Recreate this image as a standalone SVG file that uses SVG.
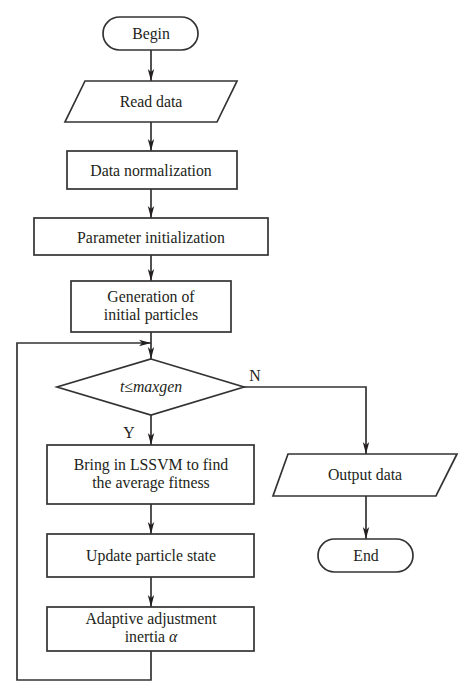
<svg xmlns="http://www.w3.org/2000/svg" width="474" height="698" viewBox="0 0 474 698">
<defs>
<marker id="arr" markerWidth="12" markerHeight="8" refX="12" refY="4" orient="auto" markerUnits="userSpaceOnUse">
<path d="M0,0.8 L12,4 L0,7.2 L3,4 z" fill="#231f20"/>
</marker>
<style>
.s{fill:#fff;stroke:#333;stroke-width:1.7}
.c{fill:none;stroke:#333;stroke-width:1.7}
text{font-family:"Liberation Serif","Times New Roman",serif;font-size:15.8px;fill:#231f20;text-anchor:middle}
.i{font-style:italic}
</style>
</defs>
<rect width="474" height="698" fill="#fff"/>
<g id="connectors">
<line class="c" x1="151" y1="50" x2="151" y2="81" marker-end="url(#arr)"/>
<line class="c" x1="151" y1="122" x2="151" y2="151" marker-end="url(#arr)"/>
<line class="c" x1="151" y1="189" x2="151" y2="218" marker-end="url(#arr)"/>
<line class="c" x1="151" y1="255" x2="151" y2="281" marker-end="url(#arr)"/>
<line class="c" x1="151" y1="332" x2="151" y2="359" marker-end="url(#arr)"/>
<line class="c" x1="151" y1="415" x2="151" y2="445" marker-end="url(#arr)"/>
<line class="c" x1="151" y1="504" x2="151" y2="534" marker-end="url(#arr)"/>
<line class="c" x1="151" y1="577" x2="151" y2="607" marker-end="url(#arr)"/>
<polyline class="c" points="151,651 151,680 17,680 17,343 151,343" marker-end="url(#arr)"/>
<polyline class="c" points="244,387 366,387 366,454" marker-end="url(#arr)"/>
<line class="c" x1="366" y1="496" x2="366" y2="539" marker-end="url(#arr)"/>
<text x="255" y="381">N</text>
<text x="129" y="438">Y</text>
</g>
<g id="begin">
<rect class="s" x="103" y="17" width="95" height="33" rx="16.5"/>
<text x="151" y="38.5">Begin</text>
</g>
<g id="read">
<polygon class="s" points="85,81 237,81 217,122 65,122"/>
<text x="151" y="106.5">Read data</text>
</g>
<g id="norm">
<rect class="s" x="67" y="151" width="170" height="38"/>
<text x="151" y="175.5">Data normalization</text>
</g>
<g id="param">
<rect class="s" x="34" y="218" width="234" height="37"/>
<text x="151" y="242.5">Parameter initialization</text>
</g>
<g id="gen">
<rect class="s" x="71" y="281" width="160" height="51"/>
<text x="151" y="302">Generation of</text>
<text x="151" y="320">initial particles</text>
</g>
<g id="cond">
<polygon class="s" points="151,359 244,387 151,415 57,387"/>
<text x="151" y="392" class="i">t≤maxgen</text>
</g>
<g id="lssvm">
<rect class="s" x="47" y="445" width="207" height="59"/>
<text x="151" y="470">Bring in LSSVM to find</text>
<text x="151" y="488">the average fitness</text>
</g>
<g id="update">
<rect class="s" x="47" y="534" width="207" height="43"/>
<text x="151" y="560.5">Update particle state</text>
</g>
<g id="adapt">
<rect class="s" x="47" y="607" width="207" height="44"/>
<text x="151" y="624">Adaptive adjustment</text>
<text x="151" y="642">inertia <tspan class="i">α</tspan></text>
</g>
<g id="output">
<polygon class="s" points="288,454 457,454 436,496 273,496"/>
<text x="365" y="479.5">Output data</text>
</g>
<g id="end">
<rect class="s" x="318" y="539" width="95" height="33" rx="16.5"/>
<text x="366" y="560.5">End</text>
</g>
</svg>
